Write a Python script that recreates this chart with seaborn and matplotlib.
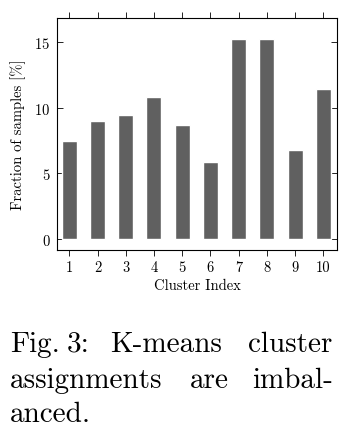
import matplotlib
matplotlib.use("Agg")
import matplotlib.pyplot as plt
import seaborn as sns
import pandas as pd

# Data
clusters = [1, 2, 3, 4, 5, 6, 7, 8, 9, 10]
fractions = [7.47, 9.0, 9.46, 10.83, 8.7, 5.87, 15.25, 15.25, 6.79, 11.44]
y_ticks = [0, 5, 10, 15]

caption_lines = [
    ["Fig.", "3:", "K-means", "cluster"],
    ["assignments", "are", "imbal-"],
    ["anced."],
]

sns.set_style("ticks")
plt.rcParams["font.family"] = ["cmr10", "DejaVu Serif"]
plt.rcParams["mathtext.fontset"] = "cm"
plt.rcParams["axes.formatter.use_mathtext"] = True
plt.rcParams["text.color"] = "black"
plt.rcParams["axes.labelcolor"] = "black"

df = pd.DataFrame({"cluster": clusters, "fraction": fractions})

fig = plt.figure(figsize=(3.55, 4.35), dpi=100)
ax = fig.add_axes([0.1614, 0.4237, 0.787, 0.5319])

sns.barplot(data=df, x="cluster", y="fraction", order=clusters,
            color="#606060", saturation=1, width=0.53, ax=ax)

ax.set_xlim(-0.425, 9.475)
ax.set_ylim(-0.82, 16.83)
ax.set_yticks(y_ticks)
ax.set_xlabel("Cluster Index", fontsize=10.5, labelpad=3, color="black")
ax.set_ylabel("Fraction of samples [%]", fontsize=10.5, labelpad=6, color="black")

# pgfplots style: x ticks outside top and bottom, y ticks inside left and right
ax.tick_params(axis="x", direction="out", top=True, bottom=True,
               length=4.5, width=0.6, labelsize=10.5, pad=3, colors="black")
ax.tick_params(axis="y", direction="in", left=True, right=True,
               length=4.5, width=0.6, labelsize=10.5, pad=5, colors="black")
for spine in ax.spines.values():
    spine.set_visible(True)
    spine.set_linewidth(0.8)
    spine.set_edgecolor("black")

# Caption, justified word by word
word_x = [
    [10, 67, 110, 248],
    [10, 190, 252],
    [10],
]
baselines = [352, 388, 422]
for words, xs, yb in zip(caption_lines, word_x, baselines):
    for w, x in zip(words, xs):
        fig.text(x / 355, 1 - yb / 435, w, fontsize=21, ha="left",
                 va="baseline", color="black")

fig.savefig("out.png", dpi=100)
